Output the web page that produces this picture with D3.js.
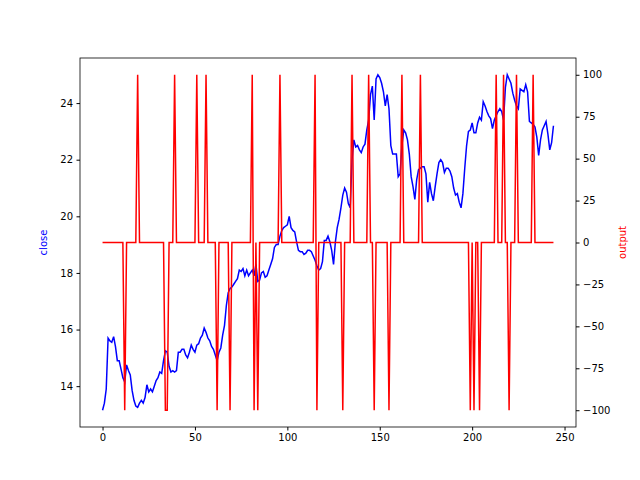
<!DOCTYPE html>
<html><head><meta charset="utf-8">
<script src="https://cdn.jsdelivr.net/npm/d3@7"></script>
<style>body{margin:0;background:#fff}text{font-family:"DejaVu Sans",sans-serif}</style>
</head><body><svg id="c" width="640" height="480"></svg>
<script>
const close = [13.15,13.4,13.9,15.7,15.6,15.55,15.75,15.4,14.9,14.9,14.6,14.3,14.15,14.75,14.55,14.4,13.85,13.5,13.3,13.25,
13.4,13.5,13.4,13.6,14.05,13.8,13.9,13.8,14.0,14.2,14.3,14.5,14.45,14.9,15.25,15.2,14.7,14.5,14.55,14.5,
14.55,15.2,15.2,15.3,15.3,15.1,15.0,15.2,15.45,15.3,15.2,15.45,15.5,15.7,15.8,16.05,15.9,15.7,15.6,15.4,
15.3,15.1,14.9,15.2,15.35,15.8,16.15,16.85,17.3,17.45,17.5,17.6,17.7,17.8,18.1,18.05,18.15,17.9,18.1,17.9,
18.0,18.1,17.9,18.3,17.7,17.75,18.0,18.05,17.85,17.9,18.1,18.3,18.5,18.9,19.0,19.0,19.3,19.5,19.6,19.65,
19.7,20.0,19.6,19.5,19.45,19.1,18.8,18.75,18.75,18.65,18.7,18.8,18.8,18.75,18.6,18.45,18.25,18.1,18.15,18.4,
19.15,19.15,19.3,19.1,18.8,18.3,19.1,19.6,19.9,20.3,20.75,21.0,20.85,20.45,20.3,22.0,22.7,22.45,22.5,22.35,
22.25,22.45,22.55,23.05,23.4,24.3,24.6,23.4,24.85,25.0,24.9,24.7,24.4,23.9,24.3,23.8,22.5,22.2,22.2,22.2,
21.4,21.5,22.5,23.05,22.95,22.7,22.2,21.4,21.05,20.6,21.3,21.65,21.7,21.75,21.75,21.5,20.5,21.2,20.8,20.55,
21.05,21.5,21.9,22.0,21.9,21.55,21.7,21.7,21.6,21.4,21.0,20.75,20.8,20.5,20.3,20.8,21.7,22.5,23.0,23.05,
23.3,22.95,22.95,23.3,23.5,23.4,24.05,23.9,23.7,23.55,23.45,23.1,23.4,23.55,23.7,23.8,23.7,23.4,24.55,25.0,
24.85,24.7,24.35,24.1,23.9,23.8,24.5,24.45,24.4,24.65,24.4,23.35,23.3,23.25,23.15,22.8,22.15,22.7,23.05,23.2,
23.35,22.9,22.35,22.6,23.2];
const upIdx = [19,39,51,56,81,96,115,135,144,162,172,213,217,224,233];
const downIdx = [12,34,35,62,69,82,84,116,130,147,155,199,201,204,220];
const output = close.map((_, i) => upIdx.includes(i) ? 100 : (downIdx.includes(i) ? -100 : 0));
const xTicks = [0,50,100,150,200,250];
const leftTicks = [14,16,18,20,22,24];
const rightTicks = [-100,-75,-50,-25,0,25,50,75,100];

const L=80,R=576,T=58,B=427;
const svg=d3.select("#c");
const n=close.length;
const x=d3.scaleLinear().domain([-(n-1)*0.05,(n-1)*1.05]).range([L,R]);
const cmin=d3.min(close),cmax=d3.max(close),pad=(cmax-cmin)*0.05;
const y1=d3.scaleLinear().domain([cmin-pad,cmax+pad]).range([B,T]);
const y2=d3.scaleLinear().domain([-110,110]).range([B,T]);

svg.append("path").datum(close).attr("fill","none").attr("stroke","#0000ff").attr("stroke-width",1.5)
  .attr("d",d3.line().x((d,i)=>x(i)).y(d=>y1(d)));
svg.append("path").datum(output).attr("fill","none").attr("stroke","#ff0000").attr("stroke-width",1.5)
  .attr("d",d3.line().x((d,i)=>x(i)).y(d=>y2(d)));

function style(g){g.selectAll("text").attr("font-size",10).attr("fill","#000");g.select(".domain").remove();g.selectAll("line").attr("stroke","#000");}
svg.append("g").attr("transform",`translate(0,${B})`).call(d3.axisBottom(x).tickValues(xTicks).tickSize(3.5).tickPadding(3.5)).call(style);
svg.append("g").attr("transform",`translate(${L},0)`).call(d3.axisLeft(y1).tickValues(leftTicks).tickSize(3.5).tickPadding(3.5)).call(style);
svg.append("g").attr("transform",`translate(${R},0)`).call(d3.axisRight(y2).tickValues(rightTicks).tickSize(3.5).tickPadding(3.5)).call(style);
svg.append("rect").attr("x",L).attr("y",T).attr("width",R-L).attr("height",B-T).attr("fill","none").attr("stroke","#000").attr("stroke-width",0.8);

svg.append("text").attr("transform",`translate(47,${(T+B)/2}) rotate(-90)`).attr("text-anchor","middle").attr("font-size",10).attr("fill","#0000ff").text("close");
svg.append("text").attr("transform",`translate(626,${(T+B)/2}) rotate(-90)`).attr("text-anchor","middle").attr("font-size",10).attr("fill","#ff0000").text("output");
</script></body></html>
